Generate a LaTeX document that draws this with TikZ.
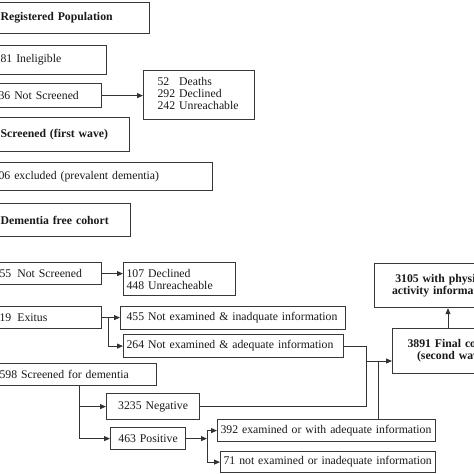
\documentclass[tikz,border=0pt]{standalone}
\usepackage{fontspec}
\setmainfont{Liberation Serif}
\usetikzlibrary{arrows.meta}
\tikzset{
  box/.style={draw=black!78, line width=1.2pt, inner ysep=0pt, text=black!90,
              font=\fontsize{11.75}{12}\selectfont},
  line/.style={draw=black!80, line width=0.9pt},
  arr/.style={line, -{Triangle[length=6pt,width=5pt]}}
}
% #1 name, #2 left, #3 top, #4 right, #5 bottom, #6 pad, #7 align, #8 text
\newcommand{\flowbox}[8]{%
  \pgfmathsetmacro{\flowtw}{#4-#2-2*#6}%
  \pgfmathsetmacro{\flowht}{#5-#3}%
  \node[box, text width=\flowtw pt, inner xsep=#6pt, minimum height=\flowht pt,
        align=#7, anchor=north west] (#1) at (#2,#3) {#8};}
\begin{document}
\begin{tikzpicture}[x=1pt,y=-1pt]
\useasboundingbox (0,0) rectangle (474,474);
\fill[white] (0,0) rectangle (474,474);
\clip (0,0) rectangle (474,474);

\flowbox{reg}{-6}{2}{149}{33}{6}{left}{\bfseries Registered Population}
\flowbox{inel}{-6}{45}{106}{74}{6}{left}{81 Ineligible}
\flowbox{nsc1}{-6}{83}{101}{107}{4}{left}{36 Not Screened}
\flowbox{lost1}{143}{70}{254}{119}{14}{left}{\begin{tabular}{@{}l@{\hspace{4pt}}l@{}}52&Deaths\\292&Declined\\242&Unreachable\end{tabular}}
\flowbox{scr1}{-6}{117}{129}{151}{6}{left}{\bfseries Screened (first wave)}
\flowbox{excl}{-6}{162}{212}{190}{4}{left}{06 excluded (prevalent dementia)}
\flowbox{free}{-6}{203}{130}{236}{6}{left}{\bfseries Dementia free cohort}
\flowbox{nsc2}{-6}{262}{101}{284}{5}{left}{55\hspace{6pt}Not Screened}
\flowbox{lost2}{123}{262}{235}{295}{3}{left}{107 Declined\\448 Unreacheable}
\flowbox{exit}{-6}{306}{101}{328}{5}{left}{19\hspace{6pt}Exitus}
\flowbox{inad}{120}{306}{345}{329}{6}{left}{\mbox{455 Not examined \& inadquate information}}
\flowbox{adeq}{123}{334}{343}{357}{3}{left}{\mbox{264 Not examined \& adequate information}}
\flowbox{scrd}{-6}{363}{156}{385}{5}{left}{598 Screened for dementia}
\flowbox{neg}{106}{393}{199}{419}{3}{center}{3235 Negative}
\flowbox{pos}{110}{427}{185}{449}{3}{center}{463 Positive}
\flowbox{exam}{217}{419}{435}{441}{3}{left}{\mbox{392 examined or with adequate information}}
\flowbox{notex}{220}{451}{435}{472}{3}{left}{\mbox{71 not examined or inadequate information}}
\flowbox{final}{392}{328}{512}{373}{3}{center}{\fontsize{11.75}{14}\selectfont\bfseries 3891 Final cohort\\(second wave)}
\flowbox{phys}{374}{263}{510}{307}{3}{center}{\fontsize{11.75}{15}\selectfont\bfseries 3105 with physical\\activity information}

\coordinate (jx) at (108,0);
\coordinate (mx) at (79,0);
\coordinate (ox) at (207,0);
\coordinate (vx) at (366,0);
\coordinate (px) at (378,0);
\coordinate (ay) at (0,361);
\coordinate (fx) at (448,0);

\draw[arr] (nsc1.east) -- (nsc1.east -| lost1.west);
\draw[arr] (nsc2.east) -- (nsc2.east -| lost2.west);
\draw[arr] (exit.east) -- (exit.east -| inad.west);
\draw[arr] (jx |- exit.east) |- (adeq.west);
\draw[arr] (mx |- scrd.south) |- (pos.west);
\draw[arr] (mx |- neg.west) -- (neg.west);
\draw[arr] (pos.east) -- (ox |- pos.east);
\draw[arr] (ox |- exam.west) |- (notex.west);
\draw[arr] (ox |- exam.west) -- (exam.west);
\draw[line] (adeq.east) -| (vx |- neg.east) -- (neg.east);
\draw[arr] (vx |- ay) -- (ay -| final.west);
\draw[line] (px |- exam.north) -- (px |- ay);
\draw[arr] (fx |- final.north) -- (fx |- phys.south);
\end{tikzpicture}
\end{document}
